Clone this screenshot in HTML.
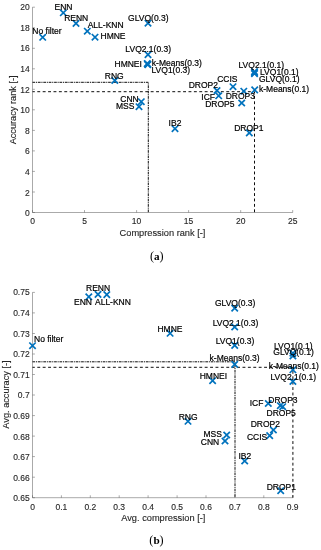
<!DOCTYPE html>
<html lang="en"><head><meta charset="utf-8"><title>Figure</title>
<style>
html,body{margin:0;padding:0;background:#fff;}
body{width:321px;height:550px;overflow:hidden;}
svg{display:block;}
text{font-family:"Liberation Sans",sans-serif;}
.t{font-size:8.5px;fill:#262626;stroke:#262626;stroke-width:0.12;}
.d{font-size:8.5px;fill:#000;stroke:#000;stroke-width:0.2;}
.l{font-size:9.25px;fill:#262626;stroke:#262626;stroke-width:0.12;}
.ly{font-size:9.2px;}
.c{font-family:"Liberation Serif",serif;font-weight:bold;font-size:11.2px;fill:#000;}
.p{font-weight:normal;font-size:12.2px;}
.ax{stroke:#555;stroke-width:0.5;fill:none;}
.m{stroke:#0072BD;stroke-width:1.7;fill:none;stroke-linecap:butt;}
.dd{stroke:#000;stroke-width:0.95;fill:none;stroke-dasharray:2.7 0.8 1.1 0.8;}
.ds{stroke:#000;stroke-width:0.95;fill:none;stroke-dasharray:2.9 2.5;stroke-dashoffset:0.6;}
</style></head><body>
<svg width="321" height="550" viewBox="0 0 321 550">
<rect width="321" height="550" fill="#fff"/>

<g class="ax">
<path d="M32.5 7.2V212.5H292.7"/>
<path d="M32.5 212.5v-2.4"/>
<path d="M84.5 212.5v-2.4"/>
<path d="M136.6 212.5v-2.4"/>
<path d="M188.6 212.5v-2.4"/>
<path d="M240.7 212.5v-2.4"/>
<path d="M292.7 212.5v-2.4"/>
<path d="M32.5 212.5h2.4"/>
<path d="M32.5 192.0h2.4"/>
<path d="M32.5 171.4h2.4"/>
<path d="M32.5 150.9h2.4"/>
<path d="M32.5 130.4h2.4"/>
<path d="M32.5 109.8h2.4"/>
<path d="M32.5 89.3h2.4"/>
<path d="M32.5 68.8h2.4"/>
<path d="M32.5 48.3h2.4"/>
<path d="M32.5 27.7h2.4"/>
<path d="M32.5 7.2h2.4"/>
</g>
<text class="t" x="32.5" y="224.3" text-anchor="middle">0</text>
<text class="t" x="84.5" y="224.3" text-anchor="middle">5</text>
<text class="t" x="136.6" y="224.3" text-anchor="middle">10</text>
<text class="t" x="188.6" y="224.3" text-anchor="middle">15</text>
<text class="t" x="240.7" y="224.3" text-anchor="middle">20</text>
<text class="t" x="292.7" y="224.3" text-anchor="middle">25</text>
<text class="t" x="29.7" y="216.1" text-anchor="end">0</text>
<text class="t" x="29.7" y="195.5" text-anchor="end">2</text>
<text class="t" x="29.7" y="174.9" text-anchor="end">4</text>
<text class="t" x="29.7" y="154.3" text-anchor="end">6</text>
<text class="t" x="29.7" y="133.7" text-anchor="end">8</text>
<text class="t" x="29.7" y="113.1" text-anchor="end">10</text>
<text class="t" x="29.7" y="92.5" text-anchor="end">12</text>
<text class="t" x="29.7" y="71.9" text-anchor="end">14</text>
<text class="t" x="29.7" y="51.3" text-anchor="end">16</text>
<text class="t" x="29.7" y="30.7" text-anchor="end">18</text>
<text class="t" x="29.7" y="10.1" text-anchor="end">20</text>
<text class="l" x="162.5" y="236" text-anchor="middle">Compression rank [-]</text>
<text class="l ly" transform="translate(15.7,109.9) rotate(-90)" text-anchor="middle">Accuracy rank [-]</text>
<text class="c" x="156.8" y="260" text-anchor="middle"><tspan class="p">(</tspan>a<tspan class="p">)</tspan></text>
<path class="dd" d="M32.5 82.3H148.3V212.5"/>
<path class="ds" d="M32.5 91.7H254.5V212.5"/>
<g class="m">
<path d="M39.5 34.1L45.9 40.5M39.5 40.5L45.9 34.1"/>
<path d="M60.1 9.6L66.5 16.0M60.1 16.0L66.5 9.6"/>
<path d="M72.8 20.2L79.2 26.6M72.8 26.6L79.2 20.2"/>
<path d="M84.1 28.0L90.5 34.4M84.1 34.4L90.5 28.0"/>
<path d="M91.8 34.0L98.2 40.4M91.8 40.4L98.2 34.0"/>
<path d="M144.8 20.0L151.2 26.4M144.8 26.4L151.2 20.0"/>
<path d="M144.8 51.4L151.2 57.8M144.8 57.8L151.2 51.4"/>
<path d="M144.0 60.4L150.4 66.8M144.0 66.8L150.4 60.4"/>
<path d="M144.6 61.0L151.0 67.4M144.6 67.4L151.0 61.0"/>
<path d="M144.6 61.4L151.0 67.8M144.6 67.8L151.0 61.4"/>
<path d="M111.6 77.3L118.0 83.7M111.6 83.7L118.0 77.3"/>
<path d="M251.3 68.4L257.7 74.8M251.3 74.8L257.7 68.4"/>
<path d="M251.3 69.4L257.7 75.8M251.3 75.8L257.7 69.4"/>
<path d="M251.3 70.4L257.7 76.8M251.3 76.8L257.7 70.4"/>
<path d="M229.8 83.5L236.2 89.9M229.8 89.9L236.2 83.5"/>
<path d="M251.5 86.7L257.9 93.1M251.5 93.1L257.9 86.7"/>
<path d="M240.6 88.0L247.0 94.4M240.6 94.4L247.0 88.0"/>
<path d="M213.8 87.3L220.2 93.7M213.8 93.7L220.2 87.3"/>
<path d="M215.5 92.6L221.9 99.0M215.5 99.0L221.9 92.6"/>
<path d="M238.5 99.8L244.9 106.2M238.5 106.2L244.9 99.8"/>
<path d="M246.1 129.7L252.5 136.1M246.1 136.1L252.5 129.7"/>
<path d="M138.1 98.5L144.5 104.9M138.1 104.9L144.5 98.5"/>
<path d="M135.8 103.5L142.2 109.9M135.8 109.9L142.2 103.5"/>
<path d="M171.8 125.5L178.2 131.9M171.8 131.9L178.2 125.5"/>
</g>
<text class="d" x="32.3" y="33.7" text-anchor="start">No filter</text>
<text class="d" x="63.5" y="10.2" text-anchor="middle">ENN</text>
<text class="d" x="76.2" y="21" text-anchor="middle">RENN</text>
<text class="d" x="87.7" y="28" text-anchor="start">ALL-KNN</text>
<text class="d" x="100.5" y="39.2" text-anchor="start">HMNE</text>
<text class="d" x="148.3" y="20.7" text-anchor="middle">GLVQ(0.3)</text>
<text class="d" x="148.2" y="52.3" text-anchor="middle">LVQ2.1(0.3)</text>
<text class="d" x="141.9" y="66.8" text-anchor="end">HMNEI</text>
<text class="d" x="151.8" y="65.5" text-anchor="start">k-Means(0.3)</text>
<text class="d" x="151.5" y="72.9" text-anchor="start">LVQ1(0.3)</text>
<text class="d" x="114.2" y="78.6" text-anchor="middle">RNG</text>
<text class="d" x="238.5" y="67.9" text-anchor="start">LVQ2.1(0.1)</text>
<text class="d" x="260" y="75.2" text-anchor="start">LVQ1(0.1)</text>
<text class="d" x="259" y="82" text-anchor="start">GLVQ(0.1)</text>
<text class="d" x="217.2" y="82.3" text-anchor="start">CCIS</text>
<text class="d" x="259" y="92.2" text-anchor="start">k-Means(0.1)</text>
<text class="d" x="225.7" y="99" text-anchor="start">DROP3</text>
<text class="d" x="205.2" y="106.7" text-anchor="start">DROP5</text>
<text class="d" x="248.8" y="130.7" text-anchor="middle">DROP1</text>
<text class="d" x="188.7" y="88" text-anchor="start">DROP2</text>
<text class="d" x="201.3" y="99.7" text-anchor="start">ICF</text>
<text class="d" x="120.3" y="102" text-anchor="start">CNN</text>
<text class="d" x="116" y="109" text-anchor="start">MSS</text>
<text class="d" x="175" y="126" text-anchor="middle">IB2</text>
<g class="ax">
<path d="M32.5 292.4V497.7H292.7"/>
<path d="M32.5 497.7v-2.4"/>
<path d="M61.4 497.7v-2.4"/>
<path d="M90.3 497.7v-2.4"/>
<path d="M119.2 497.7v-2.4"/>
<path d="M148.1 497.7v-2.4"/>
<path d="M177.1 497.7v-2.4"/>
<path d="M206.0 497.7v-2.4"/>
<path d="M234.9 497.7v-2.4"/>
<path d="M263.8 497.7v-2.4"/>
<path d="M292.7 497.7v-2.4"/>
<path d="M32.5 497.7h2.4"/>
<path d="M32.5 477.2h2.4"/>
<path d="M32.5 456.6h2.4"/>
<path d="M32.5 436.1h2.4"/>
<path d="M32.5 415.6h2.4"/>
<path d="M32.5 395.0h2.4"/>
<path d="M32.5 374.5h2.4"/>
<path d="M32.5 354.0h2.4"/>
<path d="M32.5 333.5h2.4"/>
<path d="M32.5 312.9h2.4"/>
<path d="M32.5 292.4h2.4"/>
</g>
<text class="t" x="32.5" y="509.8" text-anchor="middle">0</text>
<text class="t" x="61.4" y="509.8" text-anchor="middle">0.1</text>
<text class="t" x="90.3" y="509.8" text-anchor="middle">0.2</text>
<text class="t" x="119.2" y="509.8" text-anchor="middle">0.3</text>
<text class="t" x="148.1" y="509.8" text-anchor="middle">0.4</text>
<text class="t" x="177.1" y="509.8" text-anchor="middle">0.5</text>
<text class="t" x="206.0" y="509.8" text-anchor="middle">0.6</text>
<text class="t" x="234.9" y="509.8" text-anchor="middle">0.7</text>
<text class="t" x="263.8" y="509.8" text-anchor="middle">0.8</text>
<text class="t" x="292.7" y="509.8" text-anchor="middle">0.9</text>
<text class="t" x="29.7" y="501.2" text-anchor="end">0.65</text>
<text class="t" x="29.7" y="480.6" text-anchor="end">0.66</text>
<text class="t" x="29.7" y="460.0" text-anchor="end">0.67</text>
<text class="t" x="29.7" y="439.5" text-anchor="end">0.68</text>
<text class="t" x="29.7" y="418.9" text-anchor="end">0.69</text>
<text class="t" x="29.7" y="398.3" text-anchor="end">0.7</text>
<text class="t" x="29.7" y="377.7" text-anchor="end">0.71</text>
<text class="t" x="29.7" y="357.1" text-anchor="end">0.72</text>
<text class="t" x="29.7" y="336.6" text-anchor="end">0.73</text>
<text class="t" x="29.7" y="316.0" text-anchor="end">0.74</text>
<text class="t" x="29.7" y="295.4" text-anchor="end">0.75</text>
<text class="l" x="163.3" y="520.5" text-anchor="middle">Avg. compression [-]</text>
<text class="l ly" transform="translate(9.4,394.5) rotate(-90)" text-anchor="middle">Avg. accuracy [-]</text>
<text class="c" x="156.5" y="544.3" text-anchor="middle"><tspan class="p">(</tspan>b<tspan class="p">)</tspan></text>
<path class="dd" d="M32.5 361.8H235V497.7"/>
<path class="ds" d="M32.5 367.3H292.9V497.7"/>
<g class="m">
<path d="M29.3 342.5L35.7 348.9M29.3 348.9L35.7 342.5"/>
<path d="M85.6 293.6L92.0 300.0M85.6 300.0L92.0 293.6"/>
<path d="M94.8 291.2L101.2 297.6M94.8 297.6L101.2 291.2"/>
<path d="M103.6 291.4L110.0 297.8M103.6 297.8L110.0 291.4"/>
<path d="M166.9 330.1L173.3 336.5M166.9 336.5L173.3 330.1"/>
<path d="M231.5 304.9L237.9 311.3M231.5 311.3L237.9 304.9"/>
<path d="M231.5 323.8L237.9 330.2M231.5 330.2L237.9 323.8"/>
<path d="M231.5 342.2L237.9 348.6M231.5 348.6L237.9 342.2"/>
<path d="M231.5 361.2L237.9 367.6M231.5 367.6L237.9 361.2"/>
<path d="M289.7 350.0L296.1 356.4M289.7 356.4L296.1 350.0"/>
<path d="M289.7 352.8L296.1 359.2M289.7 359.2L296.1 352.8"/>
<path d="M289.7 366.6L296.1 373.0M289.7 373.0L296.1 366.6"/>
<path d="M289.7 378.3L296.1 384.7M289.7 384.7L296.1 378.3"/>
<path d="M265.1 400.3L271.5 406.7M265.1 406.7L271.5 400.3"/>
<path d="M277.1 402.5L283.5 408.9M277.1 408.9L283.5 402.5"/>
<path d="M279.5 403.5L285.9 409.9M279.5 409.9L285.9 403.5"/>
<path d="M270.2 426.8L276.6 433.2M270.2 433.2L276.6 426.8"/>
<path d="M266.5 432.4L272.9 438.8M266.5 438.8L272.9 432.4"/>
<path d="M209.4 377.5L215.8 383.9M209.4 383.9L215.8 377.5"/>
<path d="M184.8 418.1L191.2 424.5M184.8 424.5L191.2 418.1"/>
<path d="M223.5 431.8L229.9 438.2M223.5 438.2L229.9 431.8"/>
<path d="M221.8 437.8L228.2 444.2M221.8 444.2L228.2 437.8"/>
<path d="M241.5 457.8L247.9 464.2M241.5 464.2L247.9 457.8"/>
<path d="M277.5 487.5L283.9 493.9M277.5 493.9L283.9 487.5"/>
</g>
<text class="d" x="34" y="342.3" text-anchor="start">No filter</text>
<text class="d" x="74" y="305.3" text-anchor="start">ENN</text>
<text class="d" x="86" y="290.7" text-anchor="start">RENN</text>
<text class="d" x="95" y="304.7" text-anchor="start">ALL-KNN</text>
<text class="d" x="170" y="331.7" text-anchor="middle">HMNE</text>
<text class="d" x="235.2" y="306.2" text-anchor="middle">GLVQ(0.3)</text>
<text class="d" x="235.5" y="325.6" text-anchor="middle">LVQ2.1(0.3)</text>
<text class="d" x="235" y="343.9" text-anchor="middle">LVQ1(0.3)</text>
<text class="d" x="259.7" y="361.3" text-anchor="end">k-Means(0.3)</text>
<text class="d" x="274" y="348.7" text-anchor="start">LVQ1(0.1)</text>
<text class="d" x="273.3" y="355.1" text-anchor="start">GLVQ(0.1)</text>
<text class="d" x="268.8" y="368.6" text-anchor="start">k-Means(0.1)</text>
<text class="d" x="270.5" y="380" text-anchor="start">LVQ2.1(0.1)</text>
<text class="d" x="249.7" y="405.7" text-anchor="start">ICF</text>
<text class="d" x="268.3" y="403.3" text-anchor="start">DROP3</text>
<text class="d" x="266.5" y="415.7" text-anchor="start">DROP5</text>
<text class="d" x="250.7" y="427.2" text-anchor="start">DROP2</text>
<text class="d" x="246.9" y="439.5" text-anchor="start">CCIS</text>
<text class="d" x="199.7" y="378.7" text-anchor="start">HMNEI</text>
<text class="d" x="178.7" y="420" text-anchor="start">RNG</text>
<text class="d" x="203.5" y="437" text-anchor="start">MSS</text>
<text class="d" x="200.8" y="444.7" text-anchor="start">CNN</text>
<text class="d" x="238.4" y="459" text-anchor="start">IB2</text>
<text class="d" x="266.7" y="489.5" text-anchor="start">DROP1</text>
</svg></body></html>
